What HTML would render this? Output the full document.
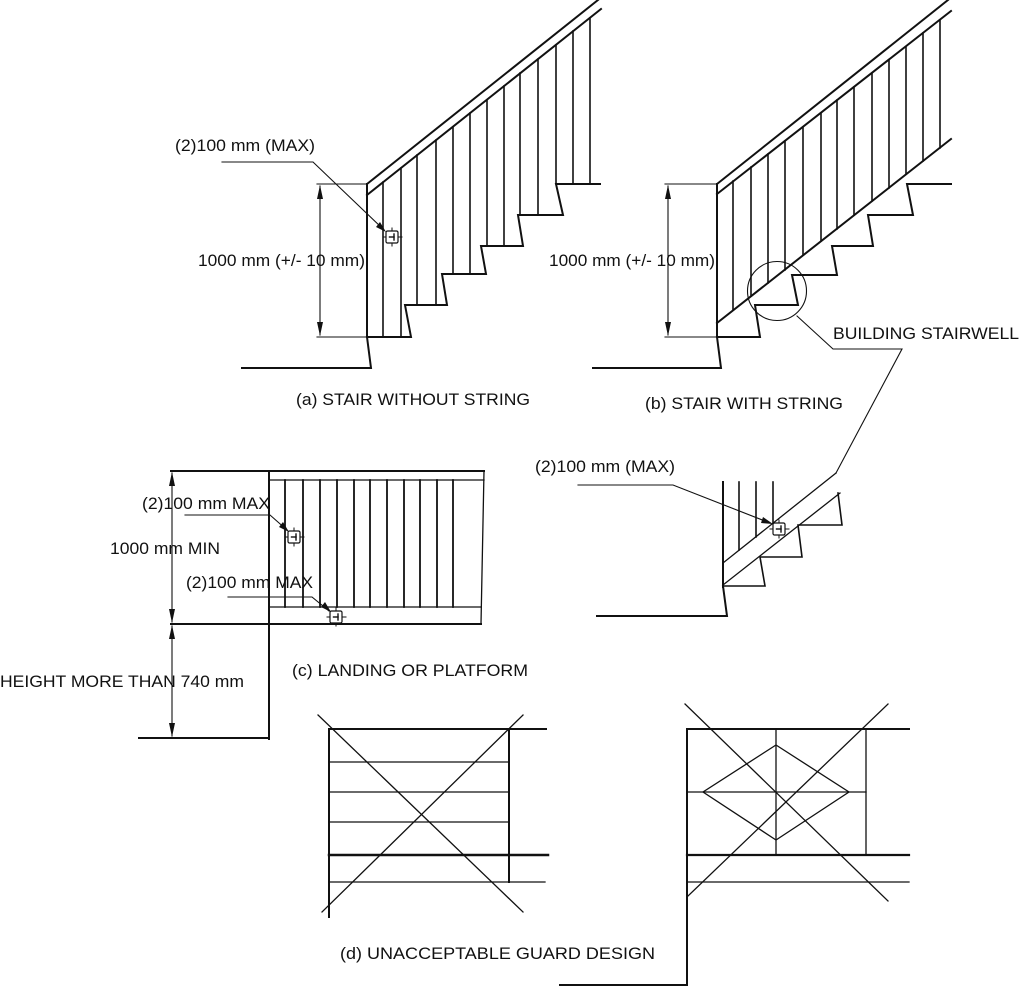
<!DOCTYPE html>
<html><head><meta charset="utf-8">
<style>
html,body{margin:0;padding:0;background:#fff;}
svg{display:block;}
text{font-family:"Liberation Sans",Arial,sans-serif;font-size:16.5px;fill:#111;}
</style></head>
<body>
<svg width="1020" height="996" viewBox="0 0 1020 996" xmlns="http://www.w3.org/2000/svg">
<defs>
<g id="sym">
  <rect x="0" y="0" width="12" height="12" rx="1.5" fill="#fff" stroke="#111" stroke-width="1.2"/>
  <line x1="6" y1="-3" x2="6" y2="0" stroke="#111" stroke-width="1"/>
  <line x1="6" y1="12" x2="6" y2="15" stroke="#111" stroke-width="1"/>
  <line x1="-3" y1="6" x2="0" y2="6" stroke="#111" stroke-width="1"/>
  <line x1="12" y1="6" x2="16" y2="6" stroke="#111" stroke-width="1" stroke-dasharray="2,1"/>
  <line x1="8" y1="3" x2="8" y2="9" stroke="#111" stroke-width="1.4"/>
  <line x1="3.5" y1="6" x2="8" y2="6" stroke="#111" stroke-width="1.4"/>
</g>
</defs>
<g stroke="#111" fill="none" stroke-linecap="square">

<!-- ===== (a) stair without string ===== -->
<line x1="367" y1="184" x2="598" y2="0" stroke-width="2"/>
<line x1="367" y1="195" x2="601" y2="9" stroke-width="2"/>
<line x1="367" y1="184" x2="367" y2="337" stroke-width="2"/>
<polyline points="367,337 411,337 405,305 447,305 442,274 486,274 481,246 523,246 518,215 563,215 556,184 600,184" stroke-width="2"/>
<polyline points="367,337 371,368 242,368" stroke-width="2"/>
<g stroke-width="1.6">
<line x1="383" y1="182" x2="383" y2="337"/>
<line x1="401" y1="168" x2="401" y2="337"/>
<line x1="417" y1="155" x2="417" y2="305"/>
<line x1="436" y1="140" x2="436" y2="305"/>
<line x1="453" y1="127" x2="453" y2="274"/>
<line x1="470" y1="113" x2="470" y2="274"/>
<line x1="487" y1="100" x2="487" y2="246"/>
<line x1="504" y1="86" x2="504" y2="246"/>
<line x1="520" y1="73" x2="520" y2="215"/>
<line x1="538" y1="59" x2="538" y2="215"/>
<line x1="556" y1="45" x2="556" y2="184"/>
<line x1="573" y1="31" x2="573" y2="184"/>
<line x1="590" y1="18" x2="590" y2="184"/>
</g>
<!-- dimension a -->
<g stroke-width="1.1">
<line x1="317" y1="184" x2="367" y2="184"/>
<line x1="317" y1="337" x2="367" y2="337"/>
<line x1="320" y1="186" x2="320" y2="335"/>
<polyline points="222,162 313,162 382,228"/>
</g>
<polygon points="320,185 317,199 323,199" fill="#111" stroke="none"/>
<polygon points="320,336 317,322 323,322" fill="#111" stroke="none"/>
<polygon points="386,232 376,227 380,222" fill="#111" stroke="none"/>
<use href="#sym" x="386" y="231"/>

<!-- ===== (b) stair with string ===== -->
<line x1="717" y1="184" x2="948" y2="0" stroke-width="2"/>
<line x1="717" y1="194" x2="951" y2="11" stroke-width="2"/>
<line x1="717" y1="184" x2="717" y2="337" stroke-width="2"/>
<line x1="717" y1="323" x2="951" y2="139" stroke-width="2"/>
<polyline points="717,337 760,337 755,305 798,305 792,275 837,275 832,246 873,246 868,215 913,215 907,184 951,184" stroke-width="2"/>
<polyline points="717,337 721,368 593,368" stroke-width="2"/>
<g stroke-width="1.6">
<line x1="733" y1="181" x2="733" y2="310"/>
<line x1="751" y1="167" x2="751" y2="296"/>
<line x1="768" y1="154" x2="768" y2="283"/>
<line x1="785" y1="141" x2="785" y2="270"/>
<line x1="803" y1="127" x2="803" y2="255"/>
<line x1="821" y1="113" x2="821" y2="241"/>
<line x1="837" y1="100" x2="837" y2="229"/>
<line x1="854" y1="87" x2="854" y2="215"/>
<line x1="872" y1="73" x2="872" y2="201"/>
<line x1="889" y1="60" x2="889" y2="188"/>
<line x1="906" y1="47" x2="906" y2="174"/>
<line x1="923" y1="33" x2="923" y2="161"/>
<line x1="940" y1="20" x2="940" y2="148"/>
</g>
<g stroke-width="1.1">
<line x1="665" y1="184" x2="717" y2="184"/>
<line x1="665" y1="337" x2="717" y2="337"/>
<line x1="668" y1="186" x2="668" y2="335"/>
<circle cx="777" cy="291" r="29.5"/>
<polyline points="797,316 833,349 902,349 836,473"/>
</g>
<polygon points="668,185 665,199 671,199" fill="#111" stroke="none"/>
<polygon points="668,336 665,322 671,322" fill="#111" stroke="none"/>

<!-- lower detail of (b) -->
<line x1="723" y1="482" x2="723" y2="587" stroke-width="2"/>
<g stroke-width="1.6">
<line x1="739" y1="482" x2="739" y2="550"/>
<line x1="756" y1="482" x2="756" y2="537"/>
<line x1="773" y1="482" x2="773" y2="523"/>
</g>
<line x1="723" y1="563" x2="836" y2="473" stroke-width="1.3"/>
<line x1="723" y1="585" x2="840" y2="493" stroke-width="1.3"/>
<polyline points="723,586 765,586 760,557 802,557 798,525 842,525 838,493" stroke-width="1.6"/>
<polyline points="723,586 727,616 597,616" stroke-width="2"/>
<polyline points="578,485 673,485 770,523" stroke-width="1.1"/>
<polygon points="773,524 761,523 763,517" fill="#111" stroke="none"/>
<use href="#sym" x="773" y="523"/>

<!-- ===== (c) landing ===== -->
<line x1="171" y1="471" x2="484" y2="471" stroke-width="2"/>
<line x1="270" y1="480" x2="484" y2="480" stroke-width="1.3"/>
<line x1="484" y1="471" x2="481" y2="624" stroke-width="1.3"/>
<line x1="270" y1="607" x2="481" y2="607" stroke-width="1.3"/>
<line x1="171" y1="624" x2="481" y2="624" stroke-width="2"/>
<line x1="269" y1="471" x2="269" y2="739" stroke-width="2"/>
<line x1="139" y1="738" x2="269" y2="738" stroke-width="2"/>
<g stroke-width="1.8">
<line x1="285" y1="480" x2="285" y2="607"/>
<line x1="303" y1="480" x2="303" y2="607"/>
<line x1="320" y1="480" x2="320" y2="607"/>
<line x1="337" y1="480" x2="337" y2="607"/>
<line x1="354" y1="480" x2="354" y2="607"/>
<line x1="370" y1="480" x2="370" y2="607"/>
<line x1="387" y1="480" x2="387" y2="607"/>
<line x1="404" y1="480" x2="404" y2="607"/>
<line x1="420" y1="480" x2="420" y2="607"/>
<line x1="437" y1="480" x2="437" y2="607"/>
<line x1="453" y1="480" x2="453" y2="607"/>
</g>
<g stroke-width="1.1">
<line x1="172" y1="473" x2="172" y2="622"/>
<line x1="172" y1="626" x2="172" y2="736"/>
<polyline points="185,515 270,515 287,530"/>
<polyline points="228,597 312,597 329,611"/>
</g>
<polygon points="172,472 169,486 175,486" fill="#111" stroke="none"/>
<polygon points="172,623 169,609 175,609" fill="#111" stroke="none"/>
<polygon points="172,625 169,639 175,639" fill="#111" stroke="none"/>
<polygon points="172,737 169,723 175,723" fill="#111" stroke="none"/>
<polygon points="289,532 279,527 283,522" fill="#111" stroke="none"/>
<polygon points="331,612 321,607 325,602" fill="#111" stroke="none"/>
<use href="#sym" x="288" y="531"/>
<use href="#sym" x="330" y="611"/>

<!-- ===== (d) left ===== -->
<line x1="329" y1="729" x2="329" y2="917" stroke-width="2"/>
<line x1="329" y1="729" x2="546" y2="729" stroke-width="2"/>
<line x1="509" y1="729" x2="509" y2="882" stroke-width="2"/>
<g stroke-width="1.3">
<line x1="329" y1="762" x2="509" y2="762"/>
<line x1="329" y1="792" x2="509" y2="792"/>
<line x1="329" y1="822" x2="509" y2="822"/>
<line x1="329" y1="882" x2="545" y2="882"/>
<line x1="318" y1="715" x2="523" y2="912"/>
<line x1="523" y1="715" x2="322" y2="912"/>
</g>
<line x1="329" y1="855" x2="548" y2="855" stroke-width="2.5"/>

<!-- ===== (d) right ===== -->
<polyline points="909,729 687,729 687,985 560,985" stroke-width="2"/>
<line x1="687" y1="855" x2="909" y2="855" stroke-width="2.2"/>
<g stroke-width="1.3">
<line x1="776" y1="729" x2="776" y2="855"/>
<line x1="866" y1="729" x2="866" y2="855"/>
<line x1="687" y1="792" x2="866" y2="792"/>
<line x1="687" y1="882" x2="909" y2="882"/>
<polygon points="776,745 849,792 776,840 703,792"/>
<line x1="685" y1="704" x2="888" y2="901"/>
<line x1="888" y1="704" x2="688" y2="896"/>
</g>
</g>

<!-- ===== labels ===== -->
<text x="175" y="151" textLength="140" lengthAdjust="spacingAndGlyphs">(2)100 mm (MAX)</text>
<text x="198" y="266" textLength="167" lengthAdjust="spacingAndGlyphs">1000 mm (+/- 10 mm)</text>
<text x="549" y="266" textLength="166" lengthAdjust="spacingAndGlyphs">1000 mm (+/- 10 mm)</text>
<text x="833" y="339" textLength="186" lengthAdjust="spacingAndGlyphs">BUILDING STAIRWELL</text>
<text x="296" y="405" textLength="234" lengthAdjust="spacingAndGlyphs">(a) STAIR WITHOUT STRING</text>
<text x="645" y="409" textLength="198" lengthAdjust="spacingAndGlyphs">(b) STAIR WITH STRING</text>
<text x="535" y="472" textLength="140" lengthAdjust="spacingAndGlyphs">(2)100 mm (MAX)</text>
<text x="142" y="509" textLength="128" lengthAdjust="spacingAndGlyphs">(2)100 mm MAX</text>
<text x="110" y="554" textLength="110" lengthAdjust="spacingAndGlyphs">1000 mm MIN</text>
<text x="186" y="588" textLength="127" lengthAdjust="spacingAndGlyphs">(2)100 mm MAX</text>
<text x="292" y="676" textLength="236" lengthAdjust="spacingAndGlyphs">(c) LANDING OR PLATFORM</text>
<text x="0" y="687" textLength="244" lengthAdjust="spacingAndGlyphs">HEIGHT MORE THAN 740 mm</text>
<text x="340" y="959" textLength="315" lengthAdjust="spacingAndGlyphs">(d) UNACCEPTABLE GUARD DESIGN</text>
</svg>
</body></html>
